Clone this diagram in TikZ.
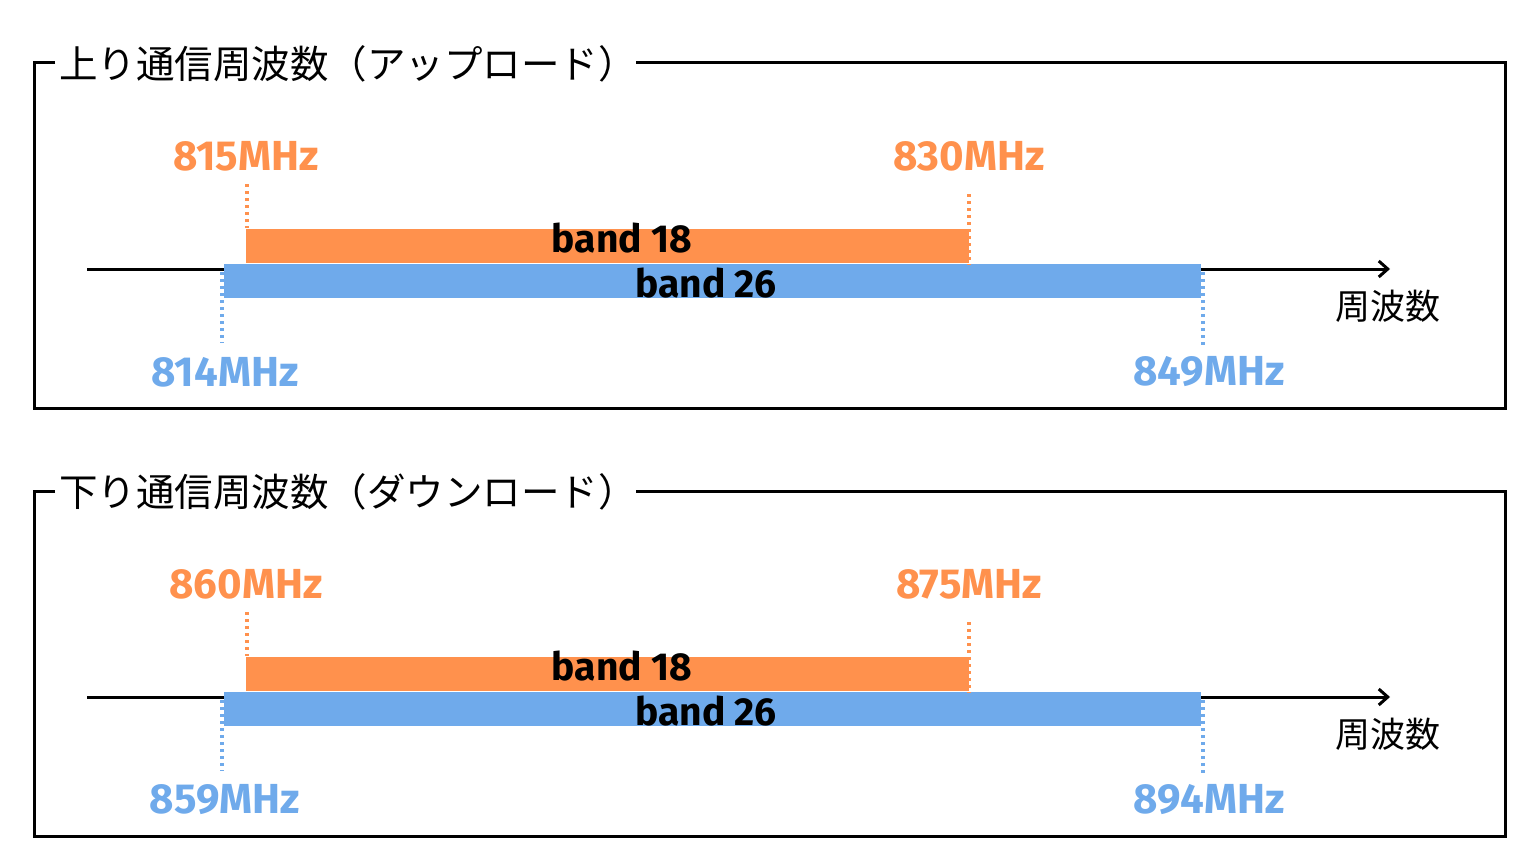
\documentclass[tikz,border=0pt]{standalone}
\usepackage{fontspec}
\setmainfont{Fira Sans}
\newfontfamily\cjk{Noto Sans CJK JP}
\usetikzlibrary{arrows.meta}
\definecolor{bandor}{HTML}{FF914D}
\definecolor{bandbl}{HTML}{6FAAEB}
\tikzset{
  frame/.style={line width=3pt,black},
  titlelbl/.style={font=\cjk\fontsize{38.5}{38.5}\selectfont,inner sep=0pt,anchor=west},
  axis/.style={line width=3pt,-{Straight Barb[length=9pt,width=16pt,line width=3pt]}},
  orlbl/.style={font=\bfseries\fontsize{42}{42}\selectfont,text=bandor,inner sep=0pt},
  bllbl/.style={font=\bfseries\fontsize{42}{42}\selectfont,text=bandbl,inner sep=0pt},
  bandlbl/.style={font=\bfseries\fontsize{39}{39}\selectfont,text=black,inner sep=0pt},
  axlbl/.style={font=\cjk\fontsize{35}{35}\selectfont,inner sep=0pt},
  ordot/.style={bandor,line width=3.5pt,dash pattern=on 3pt off 4pt},
  bldot/.style={bandbl,line width=3.5pt,dash pattern=on 3pt off 4pt}
}
\newcommand{\panel}[7]{%
\begin{scope}[yshift=#1]
  \draw[frame] (55,63) -- (34,63) -- (34,408) -- (1505,408) -- (1505,63) -- (636,63);
  \node[titlelbl] (t#7) at (59,64) {#2};
  \coordinate (as#7) at (87,269);
  \coordinate (ae#7) at (1390,269);
  \draw[axis] (as#7) -- (ae#7);
  \fill[bandbl] (224,264) rectangle (1201,298);
  \fill[bandor] (246,229) rectangle (969,263);
  \coordinate (o1t#7) at (247,184); \coordinate (o1b#7) at (247,228);
  \coordinate (o2t#7) at (969,194); \coordinate (o2b#7) at (969,265);
  \coordinate (b1t#7) at (222,272); \coordinate (b1b#7) at (222,343);
  \coordinate (b2t#7) at (1203,272); \coordinate (b2b#7) at (1203,345);
  \draw[ordot] (o1t#7) -- (o1b#7);
  \draw[ordot] (o2t#7) -- (o2b#7);
  \draw[bldot] (b1t#7) -- (b1b#7);
  \draw[bldot] (b2t#7) -- (b2b#7);
  \node[orlbl] (l1#7) at (246,156) {#3};
  \node[orlbl] (l2#7) at (969,156) {#4};
  \node[bllbl] (l3#7) at (225,372) {#5};
  \node[bllbl] (l4#7) at (1209,372) {#6};
  \node[bandlbl] (n18#7) at (622,238) {band 18};
  \node[bandlbl] (n26#7) at (706,283) {band 26};
  \node[axlbl] (ax#7) at (1388,306) {周波数};
\end{scope}}
\begin{document}
\begin{tikzpicture}[x=1pt,y=-1pt]
\useasboundingbox (0,0) rectangle (1536,864);
\panel{0pt}{上り通信周波数（アップロード）}{815MHz}{830MHz}{814MHz}{849MHz}{a}
\panel{-428pt}{下り通信周波数（ダウンロード）}{860MHz}{875MHz}{859MHz}{894MHz}{b}
\end{tikzpicture}
\end{document}
